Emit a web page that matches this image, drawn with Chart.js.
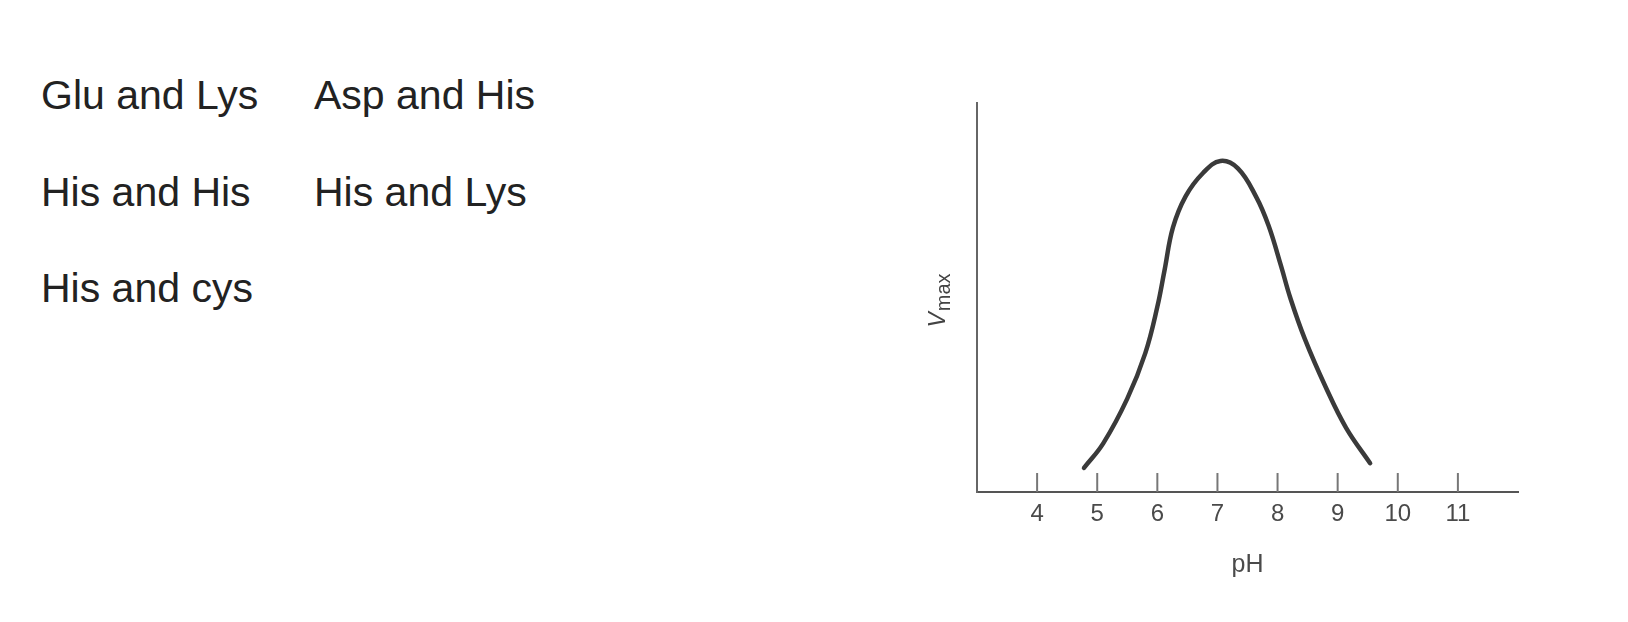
<!DOCTYPE html>
<html>
<head>
<meta charset="utf-8">
<script src="https://cdn.jsdelivr.net/npm/chart.js@4"></script>
<style>
  html, body { margin: 0; padding: 0; background: #fff; }
  body { width: 1628px; height: 622px; position: relative; overflow: hidden; }
  .pair {
    position: absolute;
    font-family: "Liberation Sans", Arial, sans-serif;
    font-size: 41px;
    line-height: 41px;
    color: #222;
    white-space: nowrap;
  }
  #chart { position: absolute; left: 860px; top: 60px; }
</style>
</head>
<body>
<div class="pair" style="left:41px; top:75px">Glu and Lys</div>
<div class="pair" style="left:314px; top:75px">Asp and His</div>
<div class="pair" style="left:41px; top:172px">His and His</div>
<div class="pair" style="left:314px; top:172px">His and Lys</div>
<div class="pair" style="left:41px; top:268px">His and cys</div>

<canvas id="chart" width="700" height="540"></canvas>

<script>
// pH axis ticks shown on the plot
const tickValues = [4, 5, 6, 7, 8, 9, 10, 11];

// bell curve (pH vs relative Vmax, 0-100)
const phValues = [4.78, 5.1, 5.5, 5.8, 6.0, 6.12, 6.26, 6.47, 6.76, 7.05, 7.34, 7.64, 7.85, 8.06, 8.21, 8.45, 8.8, 9.14, 9.54];
const vmaxValues = [6.2, 12.5, 24, 35.7, 47.6, 57, 68, 76, 82, 85.1, 83.2, 76, 68.5, 58, 50, 39.5, 27, 16.5, 7.4];

const points = phValues.map((ph, i) => ({ x: ph, y: vmaxValues[i] }));

// short tick marks pointing up into the plot, like the textbook figure
const upTicks = {
  id: "upTicks",
  afterDraw(chart) {
    const { ctx, chartArea } = chart;
    const xs = chart.scales.x;
    ctx.save();
    ctx.strokeStyle = "#777";
    ctx.lineWidth = 2;
    tickValues.forEach((v) => {
      const px = xs.getPixelForValue(v);
      ctx.beginPath();
      ctx.moveTo(px, chartArea.bottom);
      ctx.lineTo(px, chartArea.bottom - 19);
      ctx.stroke();
    });
    ctx.restore();
  },
};

// y title: italic V with "max" subscript, rotated
const vmaxTitle = {
  id: "vmaxTitle",
  afterDraw(chart) {
    const { ctx } = chart;
    const mid = (chart.chartArea.top + chart.chartArea.bottom) / 2;
    ctx.save();
    ctx.translate(85, mid + 30);
    ctx.rotate(-Math.PI / 2);
    ctx.fillStyle = "#444";
    ctx.textBaseline = "alphabetic";
    ctx.font = "italic 23px 'Liberation Sans', Arial, sans-serif";
    ctx.fillText("V", 0, 0);
    const w = ctx.measureText("V").width;
    ctx.font = "20px 'Liberation Sans', Arial, sans-serif";
    ctx.fillText("max", w + 1, 5);
    ctx.restore();
  },
};

new Chart(document.getElementById("chart"), {
  type: "line",
  data: {
    datasets: [
      {
        data: points,
        borderColor: "#3a3a3a",
        borderWidth: 4.5,
        borderCapStyle: "round",
        pointRadius: 0,
        fill: false,
        tension: 0.4,
      },
    ],
  },
  options: {
    responsive: false,
    animation: false,
    layout: { padding: { left: 0, top: 43, right: 42, bottom: 0 } },
    plugins: { legend: { display: false }, tooltip: { enabled: false } },
    scales: {
      x: {
        type: "linear",
        min: 3,
        max: 12,
        afterBuildTicks: (axis) => {
          axis.ticks = tickValues.map((v) => ({ value: v }));
        },
        afterFit: (axis) => {
          axis.height = 108;
        },
        grid: { display: false, drawTicks: false },
        border: { display: true, color: "#555", width: 2 },
        ticks: {
          color: "#4a4a4a",
          padding: 8,
          maxRotation: 0,
          font: { family: "'Liberation Sans', Arial, sans-serif", size: 24 },
        },
        title: {
          display: true,
          text: "pH",
          color: "#4a4a4a",
          padding: { top: 4, bottom: 20 },
          font: { family: "'Liberation Sans', Arial, sans-serif", size: 25 },
        },
      },
      y: {
        min: 0,
        max: 100,
        afterFit: (axis) => {
          axis.width = 117;
        },
        grid: { display: false, drawTicks: false },
        border: { display: true, color: "#666", width: 2 },
        ticks: { display: false },
      },
    },
  },
  plugins: [upTicks, vmaxTitle],
});
</script>
</body>
</html>
